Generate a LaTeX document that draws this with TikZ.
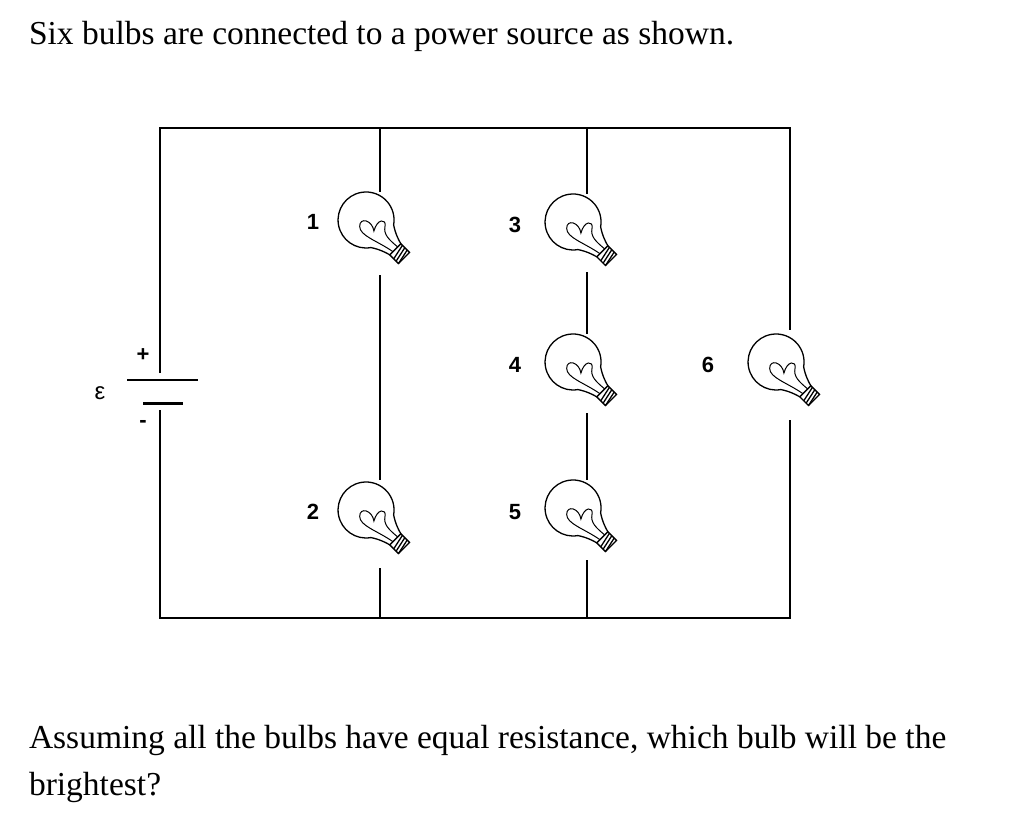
\documentclass[tikz,border=0pt]{standalone}
\usepackage{fontspec}
\setmainfont{Liberation Serif}
\newfontfamily\lab{Liberation Sans}
\begin{document}
\begin{tikzpicture}[x=1pt,y=-1pt,line width=2pt,
  lbl/.style={font=\lab\bfseries\fontsize{22}{26}\selectfont},
  txt/.style={font=\fontsize{33.5}{40}\selectfont,anchor=base west,inner sep=0},
  bulb/.pic={
    \begin{scope}[rotate=-45,scale=1.12,line width=1.3pt]
      \draw (37,7) .. controls (33,8) and (27,10) .. (20.5,14.3)
        arc[start angle=35,end angle=325,radius=25]
        .. controls (27,-10) and (33,-8) .. (37,-7);
      \draw (37,-7) rectangle (48,7);
      \foreach \t in {39,42,45} \draw (\t,-7) -- (\t+3,7);
      \draw[line width=1pt] (37,3) .. controls (20,6) and (6,14) .. (0,8) .. controls (-6,2) and (4,-4) .. (12,2)
        .. controls (6,-8) and (12,-14) .. (16,-8) .. controls (20,-2) and (26,-2) .. (37,-3);
    \end{scope}}]
\useasboundingbox (0,0) rectangle (1024,824);
\node[txt] at (28,45) {Six bulbs are connected to a power source as shown.};
\node[txt] at (28,748) {Assuming all the bulbs have equal resistance, which bulb will be the};
\node[txt] at (28,795) {brightest?};
% outer frame
\draw (160,373) -- (160,128) -- (790,128) -- (790,330);
\draw (790,420) -- (790,618) -- (160,618) -- (160,410);
% battery
\draw (127,380) -- (198,380);
\draw[line width=3pt] (143,403) -- (183,403);
\node[lbl] at (143,355) {+};
\node[lbl] at (143,424) {-};
\node[font=\lab\fontsize{24}{26}\selectfont] at (100,393) {ε};
% branch 1
\draw (380,128) -- (380,192); \draw (380,275) -- (380,480); \draw (380,568) -- (380,618);
% branch 2
\draw (587,128) -- (587,194); \draw (587,272) -- (587,334); \draw (587,413) -- (587,480); \draw (587,560) -- (587,618);
\pic at (366,220) {bulb}; \pic at (366,510) {bulb};
\pic at (573,222) {bulb}; \pic at (573,362) {bulb}; \pic at (573,508) {bulb};
\pic at (776,362) {bulb};
\node[lbl] at (313,222) {1};
\node[lbl] at (313,512) {2};
\node[lbl] at (515,225) {3};
\node[lbl] at (515,365) {4};
\node[lbl] at (515,512) {5};
\node[lbl] at (708,365) {6};
\end{tikzpicture}
\end{document}
